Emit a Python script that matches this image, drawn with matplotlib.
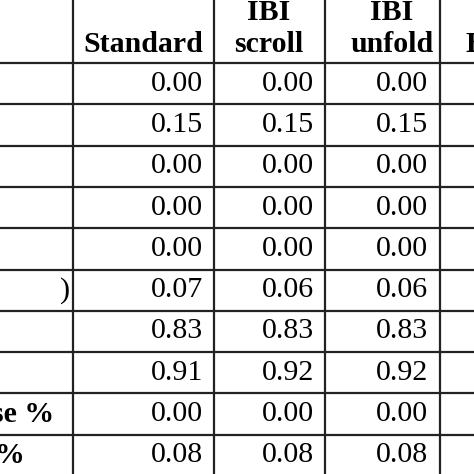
import matplotlib.pyplot as plt
from matplotlib.lines import Line2D

W = H = 474

col_headers = [("", "Standard"), ("IBI", "scroll"), ("IBI", "unfold"), ("", "E")]
standard = ["0.00", "0.15", "0.00", "0.00", "0.00", "0.07", "0.83", "0.91", "0.00", "0.08"]
ibi_scroll = ["0.00", "0.15", "0.00", "0.00", "0.00", "0.06", "0.83", "0.92", "0.00", "0.08"]
ibi_unfold = ["0.00", "0.15", "0.00", "0.00", "0.00", "0.06", "0.83", "0.92", "0.00", "0.08"]
row_labels = ["", "", "", "", "", ")", "", "", "se %", "%"]
label_right = [0, 0, 0, 0, 0, 70, 0, 0, 54, 25]
row_bold = [False, False, False, False, False, False, False, False, True, True]

vlines = [73, 214, 325, 440]
header_bottom = 63
row_h = 41.3
right_edges = [203, 314, 428]

plt.rcParams["font.family"] = ["Liberation Serif", "DejaVu Serif"]
fig = plt.figure(figsize=(W / 100, H / 100), dpi=100)
fig.patch.set_facecolor("white")


def px(x, y):
    return x / W, 1 - y / H


def line(x0, y0, x1, y1):
    a, b = px(x0, y0)
    c, d = px(x1, y1)
    fig.add_artist(Line2D([a, c], [b, d], color="#222222", lw=1.6, transform=fig.transFigure))


for x in vlines:
    line(x, 0, x, H)
for i in range(11):
    y = header_bottom + i * row_h
    line(0, y, W, y)

fs = 21.5
# headers (bold, two lines)
hx = [143, 269, 392, 465]
for (top, bot), x, ha in zip(col_headers, hx, ["center", "center", "center", "left"]):
    if top:
        fig.text(*px(x, 13), top, ha=ha, va="center", fontsize=fs, fontweight="bold")
    fig.text(*px(x, 44), bot, ha=ha, va="center", fontsize=fs, fontweight="bold")

for i, vals in enumerate(zip(standard, ibi_scroll, ibi_unfold)):
    yc = header_bottom + (i + 0.5) * row_h
    for v, xr in zip(vals, right_edges):
        fig.text(*px(xr, yc), v, ha="right", va="center", fontsize=fs)
    if row_labels[i]:
        fig.text(*px(label_right[i], yc), row_labels[i], ha="right", va="center", fontsize=fs,
                 fontweight="bold" if row_bold[i] else "normal")

fig.savefig("out.png", dpi=100)
